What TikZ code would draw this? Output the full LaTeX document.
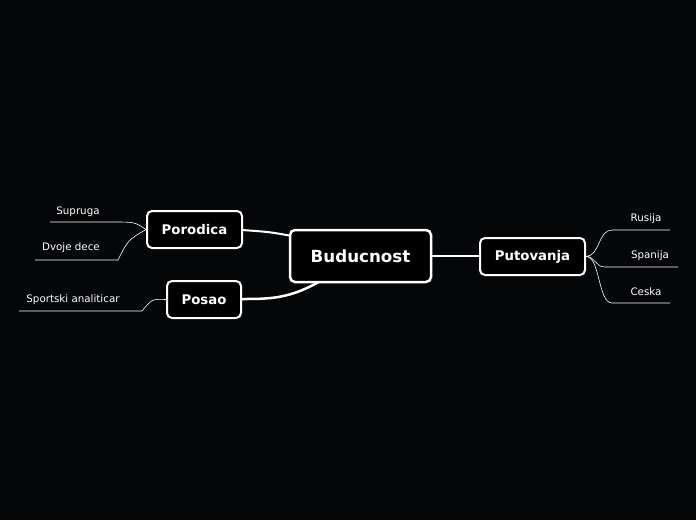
\documentclass[tikz,border=0pt]{standalone}
\usepackage{fontspec}
\setmainfont{DejaVu Sans}
\definecolor{bg}{RGB}{5,6,8}
\begin{document}
\begin{tikzpicture}[x=1pt,y=-1pt,
  box/.style={draw=white,fill=black,rounded corners=5pt,line width=2pt,text=white,font=\bfseries,inner sep=0pt},
  leaf/.style={text=white,font=\fontsize{10.3}{12}\selectfont,inner sep=0pt},
  conn/.style={draw=white,line width=0.6pt},
  main/.style={draw=white,line width=2pt}]
\fill[bg] (0,0) rectangle (696,520);
% main connectors
\draw[main] (292,236) .. controls (270,232) .. (242,230);
\draw[main,line width=2.5pt] (322,280) .. controls (290,299) and (270,299) .. (241,299);
\draw[main,line width=2.5pt] (431,256) -- (480,256);
\node[box,minimum width=141pt,minimum height=52pt,font=\bfseries\fontsize{16.7}{19}\selectfont,line width=2.5pt] (c) at (360.5,256) {Buducnost};
\node[box,minimum width=95pt,minimum height=37pt,font=\bfseries\fontsize{13.3}{15}\selectfont] (p) at (194.5,229.5) {Porodica};
\node[box,minimum width=74pt,minimum height=37pt,font=\bfseries\fontsize{13.3}{15}\selectfont] (o) at (204,299.5) {Posao};
\node[box,minimum width=105pt,minimum height=37pt,font=\bfseries\fontsize{13.3}{15}\selectfont] (t) at (532.5,256.5) {Putovanja};
% leaves
\node[leaf] (s) at (78,212) {Supruga};
\node[leaf] (d) at (71,248) {Dvoje dece};
\node[leaf] (a) at (73,300) {Sportski analiticar};
\node[leaf] (r) at (646,219) {Rusija};
\node[leaf] (sp) at (650,256) {Spanija};
\node[leaf] (ce) at (646,292) {Ceska};
\coordinate (s1) at (112,222); \coordinate (s0) at (50,222);
\coordinate (d1) at (118,260); \coordinate (d0) at (35,260);
\coordinate (a1) at (142,311); \coordinate (a0) at (19,311);
\coordinate (r1) at (612,230); \coordinate (r0) at (670,230);
\coordinate (sp1) at (605,267); \coordinate (sp0) at (678,267);
\coordinate (ce1) at (612,303); \coordinate (ce0) at (670,303);
\draw[conn] (s0) -- (s1) .. controls (135,222) .. (p.west);
\draw[conn] (d0) -- (d1) .. controls (128,240) .. (p.west);
\draw[conn] (a0) -- (a1) .. controls (152,299) .. (o.west);
\draw[conn] (r0) -- (r1) .. controls (598,230) and (600,256) .. (t.east);
\draw[conn] (sp0) -- (sp1) .. controls (595,267) and (595,256) .. (t.east);
\draw[conn] (ce0) -- (ce1) .. controls (598,303) and (600,256) .. (t.east);
\end{tikzpicture}
\end{document}
